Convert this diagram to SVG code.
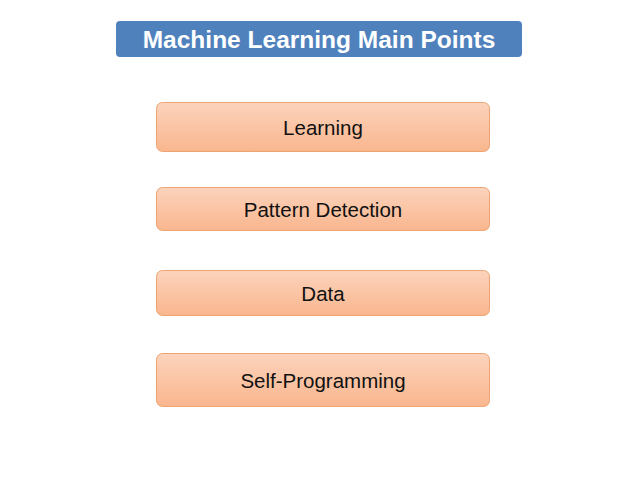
<svg xmlns="http://www.w3.org/2000/svg" width="638" height="479" viewBox="0 0 638 479">
<defs>
<linearGradient id="og" x1="0" y1="0" x2="0" y2="1">
<stop offset="0" stop-color="#fcd3bc"/>
<stop offset="1" stop-color="#f9b68e"/>
</linearGradient>
<style>
.box{fill:url(#og);stroke:#eea472;stroke-width:1}
.lbl{font-family:"Liberation Sans",Arial,sans-serif;font-size:20.5px;fill:#111;text-anchor:middle}
.title{font-family:"Liberation Sans",Arial,sans-serif;font-size:24.5px;font-weight:bold;fill:#fff;text-anchor:middle}
</style>
</defs>
<rect width="638" height="479" fill="#fff"/>
<g id="title">
<rect x="116" y="21" width="406" height="36" rx="4" fill="#4f81bd"/>
<text class="title" x="319" y="48">Machine Learning Main Points</text>
</g>
<g id="learning">
<rect class="box" x="156.5" y="102.5" width="333" height="49" rx="6"/>
<text class="lbl" x="323" y="135">Learning</text>
</g>
<g id="pattern-detection">
<rect class="box" x="156.5" y="187.5" width="333" height="43" rx="6"/>
<text class="lbl" x="323" y="217">Pattern Detection</text>
</g>
<g id="data">
<rect class="box" x="156.5" y="270.5" width="333" height="45" rx="6"/>
<text class="lbl" x="323" y="301">Data</text>
</g>
<g id="self-programming">
<rect class="box" x="156.5" y="353.5" width="333" height="53" rx="6"/>
<text class="lbl" x="323" y="388">Self-Programming</text>
</g>
<g id="connectors"></g>
</svg>
